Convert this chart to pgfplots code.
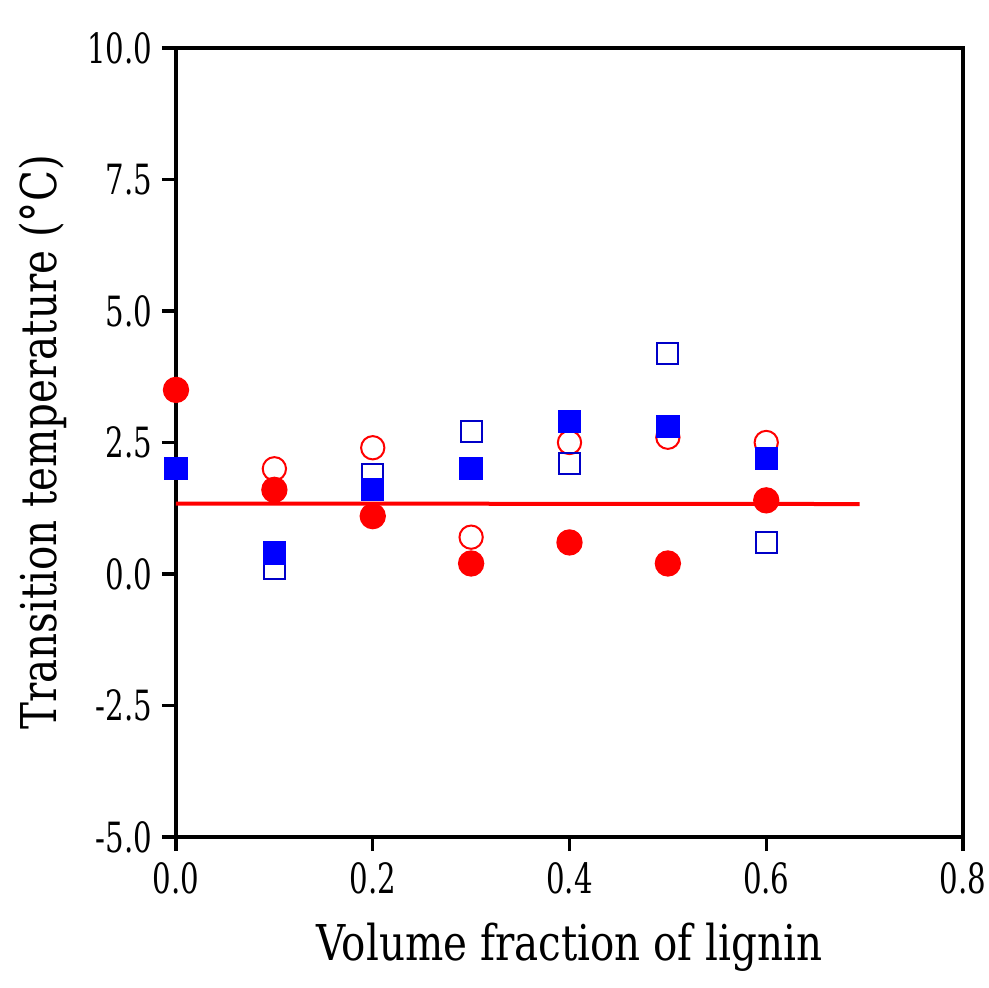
\documentclass[border=0pt]{standalone}
\usepackage{fontspec}
\setmainfont[FakeStretch=0.91]{DejaVu Serif Condensed}
\newfontfamily\tickfont[FakeStretch=0.78]{DejaVu Serif Condensed}
\usepackage{pgfplots}
\pgfplotsset{compat=1.18}
\definecolor{pred}{RGB}{255,0,0}
\definecolor{pblue}{RGB}{0,0,255}
\definecolor{pdblue}{RGB}{0,0,200}
\begin{document}
\begin{tikzpicture}
\begin{axis}[
  at={(0,0)}, anchor=south west,
  scale only axis,
  width=236.1pt, height=236.7pt,
  xmin=0, xmax=0.8, ymin=-5, ymax=10,
  xtick={0,0.2,0.4,0.6,0.8},
  xticklabels={0.0,0.2,0.4,0.6,0.8},
  ytick={-5,-2.5,0,2.5,5,7.5,10},
  yticklabels={-5.0,-2.5,0.0,2.5,5.0,7.5,10.0},
  tick align=outside,
  major tick length=4.2pt,
  xtick pos=bottom, ytick pos=left,
  minor tick num=0,
  axis line style={line width=1pt},
  every tick/.style={line width=1pt, black},
  ticklabel style={font=\tickfont\fontsize{12.5}{14}\selectfont},
  yticklabel style={xshift=0.6pt},
  label style={font=\fontsize{14.8}{17}\selectfont},
  xlabel={Volume fraction of lignin},
  ylabel={Transition temperature (°C)},
  xlabel style={at={(axis description cs:0.5,0)}, anchor=base, yshift=-36.9pt},
  ylabel style={at={(axis description cs:0,0.5)}, anchor=base, yshift=35.7pt},
  clip=false,
]
% fit line
\addplot[pred, line width=1.2pt] coordinates {(0,1.34) (0.695,1.33)};
% open red circles
\addplot[only marks, mark=o, mark size=3.5pt, pred, mark options={line width=0.6pt}]
  coordinates {(0.1,2.0) (0.2,2.4) (0.3,0.7) (0.4,2.5) (0.5,2.6) (0.6,2.5)};
% open blue squares
\addplot[only marks, mark=square, mark size=3.15pt, pdblue, mark options={line width=0.6pt}]
  coordinates {(0.1,0.1) (0.2,1.9) (0.3,2.7) (0.4,2.1) (0.5,4.2) (0.6,0.6)};
% filled red circles
\addplot[only marks, mark=*, mark size=3.75pt, pred, mark options={draw=none, fill=pred}]
  coordinates {(0,3.5) (0.1,1.6) (0.2,1.1) (0.3,0.2) (0.4,0.6) (0.5,0.2) (0.6,1.4)};
% filled blue squares
\addplot[only marks, mark=square*, mark size=3.3pt, pblue, mark options={draw=none, fill=pblue}]
  coordinates {(0,2.0) (0.1,0.4) (0.2,1.6) (0.3,2.0) (0.4,2.9) (0.5,2.8) (0.6,2.2)};
\end{axis}
\pgfresetboundingbox
\path[use as bounding box] (-52.8pt,-45.3pt) rectangle (243.6pt,251.1pt);
\end{tikzpicture}
\end{document}
